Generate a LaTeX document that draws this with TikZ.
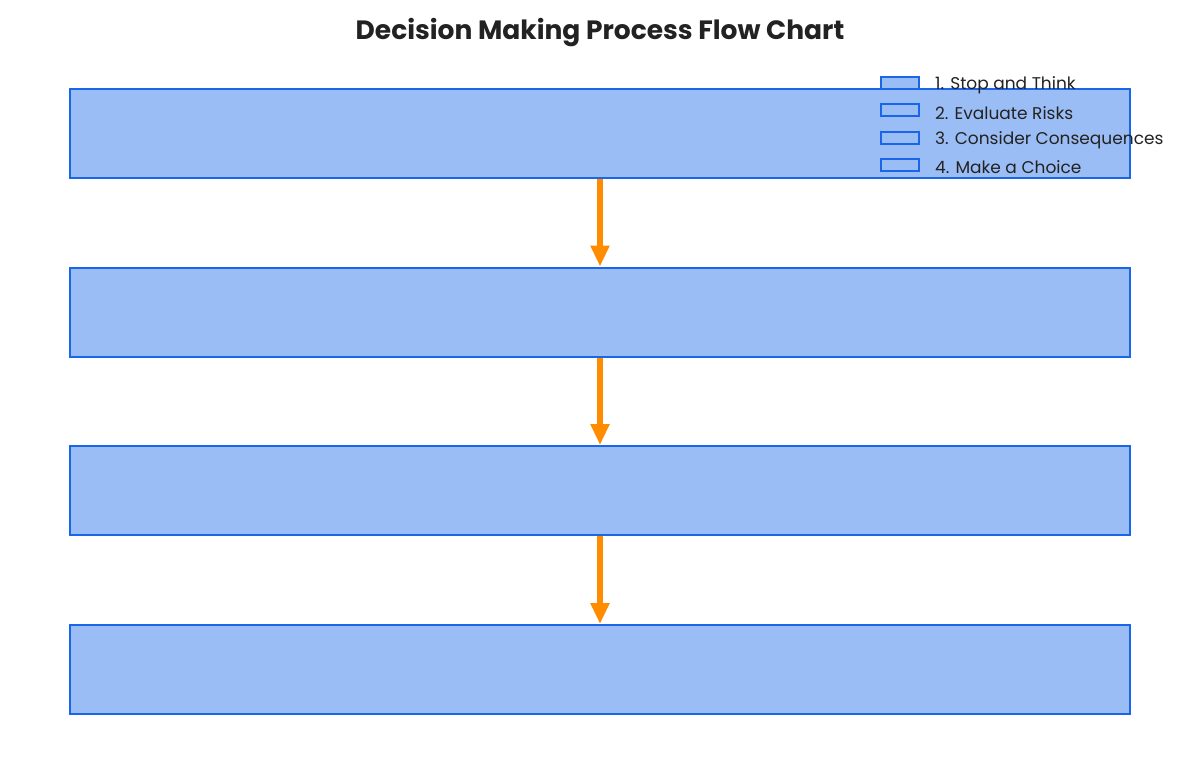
\documentclass[tikz,border=0pt]{standalone}
\usepackage{fontspec}
\setmainfont{Poppins}
\usetikzlibrary{arrows.meta}
\definecolor{boxfill}{RGB}{155,189,245}
\definecolor{boxline}{RGB}{26,102,232}
\definecolor{arrorange}{RGB}{255,140,0}
\definecolor{txt}{RGB}{34,34,34}
\begin{document}
\begin{tikzpicture}[x=1pt,y=-1pt,
  stepbox/.style={draw=boxline,fill=boxfill,line width=2pt,minimum width=1060pt,minimum height=89pt,inner sep=0pt},
  flow/.style={draw=arrorange,line width=6pt,-{Triangle[length=21pt,width=18pt]},shorten >=0pt},
  swatch/.style={draw=boxline,fill=boxfill,line width=2pt,minimum width=38pt,minimum height=12pt,inner sep=0pt},
  legtext/.style={anchor=west,inner sep=0pt,font=\fontsize{17pt}{19pt}\selectfont,text=txt}]
\useasboundingbox (0,0) rectangle (1200,763);
\node[font=\fontsize{26.5pt}{30pt}\selectfont\bfseries,text=txt] (title) at (600,33) {Decision Making Process Flow Chart};
\node[stepbox] (s1) at (600,133.5) {};
\node[stepbox] (s2) at (600,312) {};
\node[stepbox] (s3) at (600,490.5) {};
\node[stepbox] (s4) at (600,669.5) {};
\draw[flow] (s1.south) -- (s2.north);
\draw[flow] (s2.south) -- (s3.north);
\draw[flow] (s3.south) -- (s4.north);
\node[swatch] (l1) at (899.5,82.5) {};
\node[swatch] (l2) at (899.5,110) {};
\node[swatch] (l3) at (899.5,137.5) {};
\node[swatch] (l4) at (899.5,164.5) {};
\node[legtext] (t1) at (935,85.5) {1. Stop and Think};
\node[legtext] (t2) at (935,113) {2. Evaluate Risks};
\node[legtext] (t3) at (935,140.5) {3. Consider Consequences};
\node[legtext] (t4) at (935,167.5) {4. Make a Choice};
\end{tikzpicture}
\end{document}
